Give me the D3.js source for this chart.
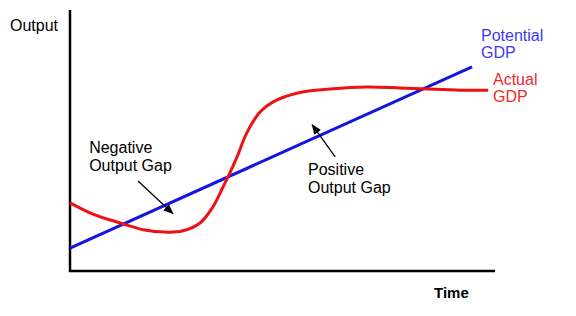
<!DOCTYPE html>
<html>
<head>
<meta charset="utf-8">
<script src="https://cdn.jsdelivr.net/npm/d3@7"></script>
<style>
  body { margin: 0; background: #fff; }
  text { font-family: Arial, "Liberation Sans", sans-serif; font-size: 16px; }
</style>
</head>
<body>
<script>
// time 0..100, output 0..100
const actualTime   = [0, 5.4, 11.8, 17.6, 22.4, 26.4, 30.6, 33.6, 36, 37.6, 39.3, 41.6, 44.7, 47.8, 53.6, 61.2, 69.9, 77.6, 84, 91.8, 98.4];
const actualOutput = [26.1, 21.8, 18.4, 15.7, 14.9, 15.3, 18.4, 24.5, 32.2, 37.5, 43.7, 52.9, 60.9, 64.8, 68.2, 69.7, 70.5, 70.1, 69.7, 69.3, 69.3];
const potentialTime   = [0, 94.6];
const potentialOutput = [8.8, 78.2];

// annotations: label lines, label anchor, arrow from/to (data units)
const notes = [
  { lines: ["Negative", "Output Gap"], at: [4.5, 45.2], from: [16, 34.5], to: [24.2, 22] },
  { lines: ["Positive", "Output Gap"], at: [56, 36.8], from: [62.4, 43.7], to: [57, 56] }
];

const W = 576, H = 316;
const svg = d3.select("body").append("svg").attr("width", W).attr("height", H);

const x = d3.scaleLinear().domain([0, 100]).range([70, 495]);
const y = d3.scaleLinear().domain([0, 100]).range([271, 10]);

svg.append("defs").append("marker")
    .attr("id", "head").attr("viewBox", "0 0 10 10")
    .attr("refX", 9).attr("refY", 5)
    .attr("markerWidth", 8).attr("markerHeight", 8)
    .attr("orient", "auto")
  .append("path").attr("d", "M0,1L10,5L0,9z").attr("fill", "#000");

// axes
svg.append("path")
    .attr("d", `M${x(0)},${y(100)}V${y(0)}H${x(100)}`)
    .attr("fill", "none").attr("stroke", "#000").attr("stroke-width", 2.5);

const line = d3.line().x(d => x(d[0])).y(d => y(d[1]));

svg.append("path")
    .datum(d3.zip(potentialTime, potentialOutput))
    .attr("d", line)
    .attr("fill", "none").attr("stroke", "#1515e0").attr("stroke-width", 3);

svg.append("path")
    .datum(d3.zip(actualTime, actualOutput))
    .attr("d", line.curve(d3.curveCatmullRom))
    .attr("fill", "none").attr("stroke", "#ee1111").attr("stroke-width", 3);

// labels
svg.append("text").attr("x", 10).attr("y", 31).text("Output");
svg.append("text").attr("x", 434).attr("y", 298).attr("font-weight", "bold").style("font-size", "15px").text("Time");

const pot = svg.append("text").attr("x", 481).attr("y", 41).attr("fill", "#3b3bef");
pot.append("tspan").attr("x", 481).text("Potential");
pot.append("tspan").attr("x", 481).attr("dy", 17).text("GDP");

const act = svg.append("text").attr("x", 493).attr("y", 85).attr("fill", "#ef2a2a");
act.append("tspan").attr("x", 493).text("Actual");
act.append("tspan").attr("x", 493).attr("dy", 17).text("GDP");

notes.forEach(n => {
  const t = svg.append("text").attr("x", x(n.at[0])).attr("y", y(n.at[1]));
  n.lines.forEach((s, i) => t.append("tspan").attr("x", x(n.at[0])).attr("dy", i ? 18 : 0).text(s));
  svg.append("line")
      .attr("x1", x(n.from[0])).attr("y1", y(n.from[1]))
      .attr("x2", x(n.to[0])).attr("y2", y(n.to[1]))
      .attr("stroke", "#000").attr("stroke-width", 1.3)
      .attr("marker-end", "url(#head)");
});
</script>
</body>
</html>
